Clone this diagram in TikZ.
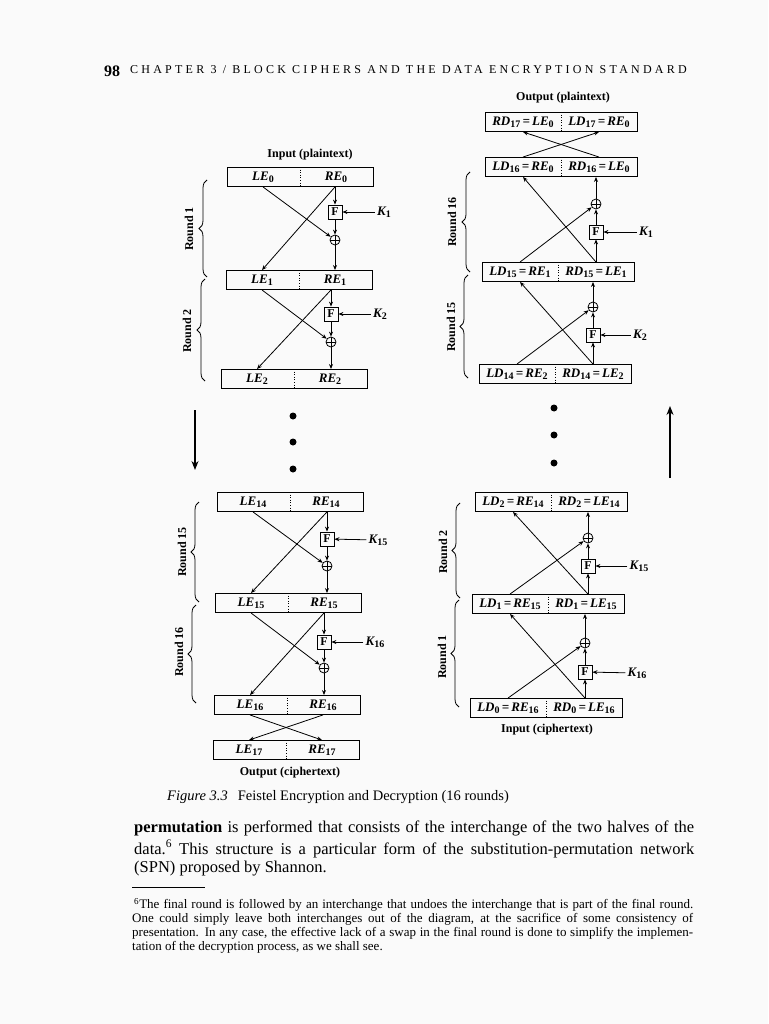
\documentclass[tikz,border=0pt]{standalone}
\usepackage{fontspec}
\setmainfont{Liberation Serif}
\usetikzlibrary{arrows.meta,decorations.pathreplacing,positioning}
\newcommand{\hv}[2]{\textit{#1}\raisebox{-0.4ex}{\upshape\fontsize{10}{10}\selectfont #2}}
\tikzset{
  >={Stealth[length=5pt,width=4pt]},
  half/.style={draw, line width=0.9pt, minimum height=19pt, inner sep=0pt},
  divd/.style={dotted, line width=0.6pt},
  lab/.style={font=\fontsize{13}{15}\selectfont\bfseries\itshape, inner sep=0pt},
  fbx/.style={draw, line width=0.8pt, minimum size=14pt, inner sep=0pt, font=\fontsize{12}{13}\selectfont\bfseries},
  xorc/.style={draw, circle, line width=0.8pt, minimum size=10pt, inner sep=0pt,
    path picture={\draw[line width=0.6pt] (path picture bounding box.north) -- (path picture bounding box.south)
      (path picture bounding box.west) -- (path picture bounding box.east);}},
  key/.style={font=\fontsize{13}{15}\selectfont\bfseries\itshape, inner sep=2pt},
  rnd/.style={rotate=90, font=\fontsize{12}{14}\selectfont\bfseries},
  ttl/.style={font=\fontsize{12}{14}\selectfont\bfseries},
  brc/.style={decorate, decoration={brace, amplitude=8pt}, line width=0.8pt},
  arr/.style={->, line width=0.8pt},
  blob/.style={circle, fill, minimum size=7pt, inner sep=0pt},
  body/.style={anchor=west, inner sep=0pt, font=\fontsize{16.5}{19}\selectfont},
  note/.style={anchor=west, inner sep=0pt, font=\fontsize{13}{14}\selectfont},
}
\begin{document}
\begin{tikzpicture}[x=1pt,y=-1pt]
        \useasboundingbox (0,0) rectangle (768,1024);
        \fill[gray!4] (0,0) rectangle (768,1024);
        % header
        \node[anchor=west, inner sep=0pt, font=\fontsize{16}{18}\selectfont\bfseries] (pg) at (104,71) {98};
        \node[anchor=west, inner sep=0pt, font=\fontsize{12}{14}\selectfont\addfontfeature{LetterSpace=27}] (hdr) at (130,70) {CHAPTER 3 / BLOCK CIPHERS AND THE DATA ENCRYPTION STANDARD};

        % encryption, rounds 1 and 2
        \node[ttl] (inp) at (310,155) {Input (plaintext)};
        \node[half, minimum width=146pt] (e0) at (300,177) {};
        \node[lab] (le0) at (263,177) {\hv{LE}{0}};
        \node[lab] (re0) at (336,177) {\hv{RE}{0}};
        \draw[divd] (e0.north) -- (e0.south);
        \node[fbx] (f1) at (335,212) {F};
        \node[xorc] (x1) at (335,240) {};
        \node[key] (k1) at (384,212) {\hv{K}{1}};
        \node[half, minimum width=146pt] (e1) at (299,280) {};
        \node[lab] (le1) at (262,280) {\hv{LE}{1}};
        \node[lab] (re1) at (335,280) {\hv{RE}{1}};
        \draw[divd] (e1.north) -- (e1.south);
        \draw[arr] (f1 |- e0.south) -- (f1);\draw[arr] (f1) -- (x1);\draw[arr] (x1) -- (x1 |- e1.north);
        \draw[arr] (le0 |- e0.south) -- (x1);\draw[arr] (f1 |- e0.south) -- (le1 |- e1.north);
        \draw[arr] (k1) -- (f1);

        \node[fbx] (f2) at (331,314) {F};
        \node[xorc] (x2) at (331,342) {};
        \node[key] (k2) at (380,314) {\hv{K}{2}};
        \node[half, minimum width=146pt] (e2) at (294,379) {};
        \node[lab] (le2) at (257,379) {\hv{LE}{2}};
        \node[lab] (re2) at (330,379) {\hv{RE}{2}};
        \draw[divd] (e2.north) -- (e2.south);
        \draw[arr] (f2 |- e1.south) -- (f2);\draw[arr] (f2) -- (x2);\draw[arr] (x2) -- (x2 |- e2.north);
        \draw[arr] (le1 |- e1.south) -- (x2);\draw[arr] (f2 |- e1.south) -- (le2 |- e2.north);
        \draw[arr] (k2) -- (f2);

        \draw[brc] (207,277) -- (207,180);\node[rnd] (rl1) at (189,229) {Round 1};
        \draw[brc] (205,381) -- (205,279);\node[rnd] (rl2) at (187,331) {Round 2};

        % encryption, rounds 15 and 16
        \node[half, minimum width=146pt] (e14) at (290,502) {};
        \node[lab] (le14) at (253,502) {\hv{LE}{14}};
        \node[lab] (re14) at (326,502) {\hv{RE}{14}};
        \draw[divd] (e14.north) -- (e14.south);
        \node[fbx] (f15) at (327,539) {F};
        \node[xorc] (x15) at (327,566) {};
        \node[key] (k15) at (378,540) {\hv{K}{15}};
        \node[half, minimum width=146pt] (e15) at (288,603) {};
        \node[lab] (le15) at (251,603) {\hv{LE}{15}};
        \node[lab] (re15) at (324,603) {\hv{RE}{15}};
        \draw[divd] (e15.north) -- (e15.south);
        \draw[arr] (f15 |- e14.south) -- (f15);\draw[arr] (f15) -- (x15);\draw[arr] (x15) -- (x15 |- e15.north);
        \draw[arr] (le14 |- e14.south) -- (x15);\draw[arr] (f15 |- e14.south) -- (le15 |- e15.north);
        \draw[arr] (k15) -- (f15);

        \node[fbx] (f16) at (324,642) {F};
        \node[xorc] (x16) at (324,668) {};
        \node[key] (k16) at (375,642) {\hv{K}{16}};
        \node[half, minimum width=146pt] (e16) at (287,705) {};
        \node[lab] (le16) at (250,705) {\hv{LE}{16}};
        \node[lab] (re16) at (323,705) {\hv{RE}{16}};
        \draw[divd] (e16.north) -- (e16.south);
        \draw[arr] (f16 |- e15.south) -- (f16);\draw[arr] (f16) -- (x16);\draw[arr] (x16) -- (x16 |- e16.north);
        \draw[arr] (le15 |- e15.south) -- (x16);\draw[arr] (f16 |- e15.south) -- (le16 |- e16.north);
        \draw[arr] (k16) -- (f16);

        \node[half, minimum width=146pt] (e17) at (286,750) {};
        \node[lab] (le17) at (249,750) {\hv{LE}{17}};
        \node[lab] (re17) at (322,750) {\hv{RE}{17}};
        \draw[divd] (e17.north) -- (e17.south);
        \draw[arr] (le16 |- e16.south) -- (re17 |- e17.north);\draw[arr] (re16 |- e16.south) -- (le17 |- e17.north);
        \node[ttl] (outc) at (290,773) {Output (ciphertext)};

        \draw[brc] (199,602) -- (199,502);\node[rnd] (rl15) at (182,552) {Round 15};
        \draw[brc] (196,703) -- (196,605);\node[rnd] (rl16) at (179,652) {Round 16};

        % decryption, rounds 16 and 15
        \node[ttl] (outp) at (563,98) {Output (plaintext)};
        \node[half, minimum width=152pt] (d17) at (561,122) {};
        \node[lab] (ld17) at (523,122) {\hv{RD}{17}\,=\,\hv{LE}{0}};
        \node[lab] (rd17) at (599,122) {\hv{LD}{17}\,=\,\hv{RE}{0}};
        \draw[divd] (d17.north) -- (d17.south);
        \node[half, minimum width=152pt] (d16) at (561,167) {};
        \node[lab] (ld16) at (523,167) {\hv{LD}{16}\,=\,\hv{RE}{0}};
        \node[lab] (rd16) at (599,167) {\hv{RD}{16}\,=\,\hv{LE}{0}};
        \draw[divd] (d16.north) -- (d16.south);
        \draw[arr] (ld16 |- d16.north) -- (rd17 |- d17.south);\draw[arr] (rd16 |- d16.north) -- (ld17 |- d17.south);

        \node[xorc] (y16) at (596,204) {};
        \node[fbx] (g16) at (596,232) {F};
        \node[key] (q1) at (646,232) {\hv{K}{1}};
        \node[half, minimum width=152pt] (d15) at (558,272) {};
        \node[lab] (ld15) at (520,272) {\hv{LD}{15}\,=\,\hv{RE}{1}};
        \node[lab] (rd15) at (596,272) {\hv{RD}{15}\,=\,\hv{LE}{1}};
        \draw[divd] (d15.north) -- (d15.south);
        \draw[arr] (g16 |- d15.north) -- (g16);\draw[arr] (g16) -- (y16);\draw[arr] (y16) -- (y16 |- d16.south);
        \draw[arr] (ld15 |- d15.north) -- (y16);\draw[arr] (g16 |- d15.north) -- (ld16 |- d16.south);
        \draw[arr] (q1) -- (g16);

        \node[xorc] (y15) at (593,307) {};
        \node[fbx] (g15) at (593,335) {F};
        \node[key] (q2) at (640,335) {\hv{K}{2}};
        \node[half, minimum width=152pt] (d14) at (555,374) {};
        \node[lab] (ld14) at (517,374) {\hv{LD}{14}\,=\,\hv{RE}{2}};
        \node[lab] (rd14) at (593,374) {\hv{RD}{14}\,=\,\hv{LE}{2}};
        \draw[divd] (d14.north) -- (d14.south);
        \draw[arr] (g15 |- d14.north) -- (g15);\draw[arr] (g15) -- (y15);\draw[arr] (y15) -- (y15 |- d15.south);
        \draw[arr] (ld14 |- d14.north) -- (y15);\draw[arr] (g15 |- d14.north) -- (ld15 |- d15.south);
        \draw[arr] (q2) -- (g15);

        \draw[brc] (470,272) -- (470,172);\node[rnd] (rr16) at (452,222) {Round 16};
        \draw[brc] (468,378) -- (468,275);\node[rnd] (rr15) at (451,327) {Round 15};

        % dots and direction arrows
        \node[blob] (p1) at (293,416) {};\node[blob] (p2) at (293,442) {};\node[blob] (p3) at (293,469) {};
        \node[blob] (s1) at (554,408) {};\node[blob] (s2) at (554,435) {};\node[blob] (s3) at (554,463) {};
        \coordinate (dn1) at (195,410);\coordinate (dn2) at (195,470);
        \coordinate (up1) at (670,478);\coordinate (up2) at (670,406);
        \draw[->, line width=1.1pt, >={Stealth[length=9pt,width=7pt]}] (dn1) -- (dn2);
        \draw[->, line width=1.1pt, >={Stealth[length=9pt,width=7pt]}] (up1) -- (up2);

        % decryption, rounds 2 and 1
        \node[half, minimum width=152pt] (d2) at (551,502) {};
        \node[lab] (ld2) at (513,502) {\hv{LD}{2}\,=\,\hv{RE}{14}};
        \node[lab] (rd2) at (589,502) {\hv{RD}{2}\,=\,\hv{LE}{14}};
        \draw[divd] (d2.north) -- (d2.south);
        \node[xorc] (y2) at (588,538) {};
        \node[fbx] (g2) at (588,566) {F};
        \node[key] (q15) at (639,566) {\hv{K}{15}};
        \node[half, minimum width=152pt] (d1) at (548,604) {};
        \node[lab] (ld1) at (510,604) {\hv{LD}{1}\,=\,\hv{RE}{15}};
        \node[lab] (rd1) at (586,604) {\hv{RD}{1}\,=\,\hv{LE}{15}};
        \draw[divd] (d1.north) -- (d1.south);
        \draw[arr] (g2 |- d1.north) -- (g2);\draw[arr] (g2) -- (y2);\draw[arr] (y2) -- (y2 |- d2.south);
        \draw[arr] (ld1 |- d1.north) -- (y2);\draw[arr] (g2 |- d1.north) -- (ld2 |- d2.south);
        \draw[arr] (q15) -- (g2);

        \node[xorc] (y1) at (585,643) {};
        \node[fbx] (g1) at (585,672) {F};
        \node[key] (q16) at (637,673) {\hv{K}{16}};
        \node[half, minimum width=152pt] (d0) at (546,708) {};
        \node[lab] (ld0) at (508,708) {\hv{LD}{0}\,=\,\hv{RE}{16}};
        \node[lab] (rd0) at (584,708) {\hv{RD}{0}\,=\,\hv{LE}{16}};
        \draw[divd] (d0.north) -- (d0.south);
        \draw[arr] (g1 |- d0.north) -- (g1);\draw[arr] (g1) -- (y1);\draw[arr] (y1) -- (y1 |- d1.south);
        \draw[arr] (ld0 |- d0.north) -- (y1);\draw[arr] (g1 |- d0.north) -- (ld1 |- d1.south);
        \draw[arr] (q16) -- (g1);
        \node[ttl] (inc) at (547,730) {Input (ciphertext)};

        \draw[brc] (460,598) -- (460,503);\node[rnd] (rr2) at (443,552) {Round 2};
        \draw[brc] (459,707) -- (459,600);\node[rnd] (rr1) at (442,657) {Round 1};

        % caption and text
        \node[anchor=west, inner sep=0pt, font=\fontsize{14.5}{16}\selectfont] (cap) at (167,797) {\textit{Figure 3.3}\hspace{10pt}Feistel Encryption and Decryption (16 rounds)};
        \node[body] (t1) at (134,828) {\makebox[560pt][s]{\textbf{permutation} is performed that consists of the interchange of the two halves of the}};
        \node[body] (t2) at (134,849) {\makebox[560pt][s]{data.\textsuperscript{6} This structure is a particular form of the substitution-permutation network}};
        \node[body] (t3) at (134,869) {(SPN) proposed by Shannon.};
        \coordinate (fr1) at (132,887);\coordinate (fr2) at (205,887);
        \draw[line width=0.8pt] (fr1) -- (fr2);
        \node[note] (n1) at (134,905) {\makebox[559pt][s]{\textsuperscript{6}The final round is followed by an interchange that undoes the interchange that is part of the final round.}};
        \node[note] (n2) at (132,919) {\makebox[561pt][s]{One could simply leave both interchanges out of the diagram, at the sacrifice of some consistency of}};
        \node[note] (n3) at (132,933) {\makebox[561pt][s]{presentation. In any case, the effective lack of a swap in the final round is done to simplify the implemen-}};
        \node[note] (n4) at (132,947) {tation of the decryption process, as we shall see.};
    \end{tikzpicture}
\end{document}
